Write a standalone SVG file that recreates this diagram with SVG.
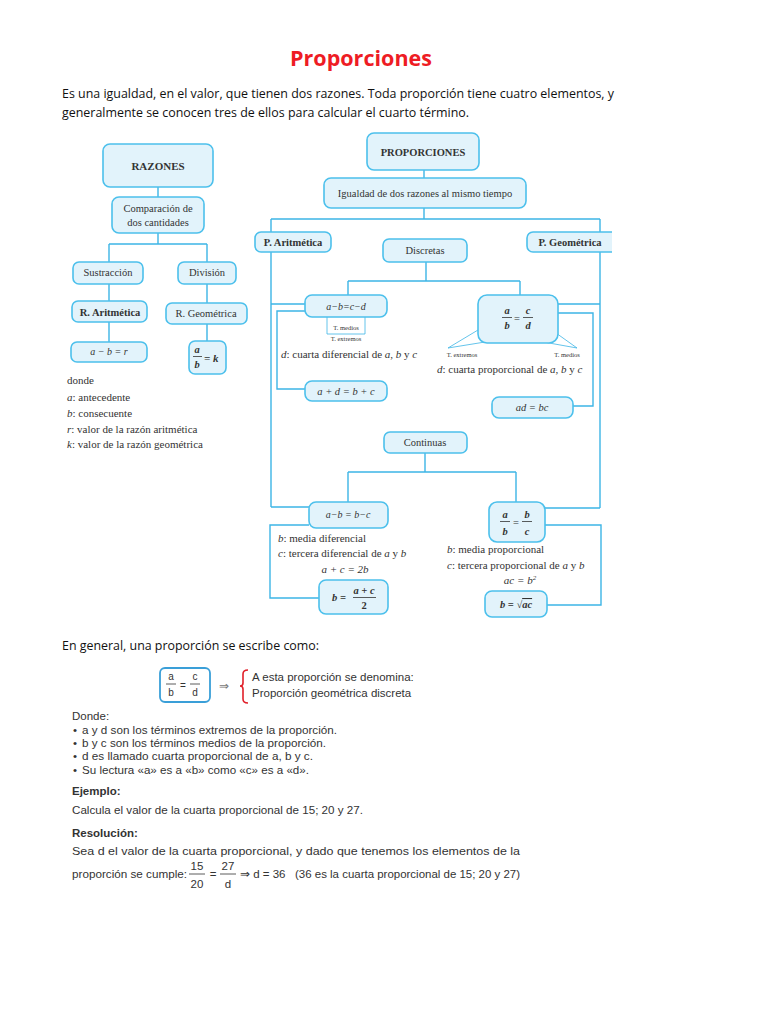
<svg xmlns="http://www.w3.org/2000/svg" width="768" height="1024" viewBox="0 0 768 1024">
<defs>
<style>
.box{fill:#e2f3fb;stroke:#4cc0ec;stroke-width:1.6}
.ln{fill:none;stroke:#3db5e6;stroke-width:1.4}
.thin{fill:none;stroke:#3db5e6;stroke-width:0.8}
.t{font-family:"Liberation Serif",serif;font-size:10.5px;fill:#333;text-anchor:middle}
.tl{font-family:"Liberation Serif",serif;font-size:11px;fill:#333}
.sm{font-size:6.5px}
.i{font-style:italic}
.b{font-weight:bold}
.s{font-family:"Liberation Sans",Arial,sans-serif;font-size:11.5px;fill:#333}
.c{font-family:"Open Sans","Noto Sans",sans-serif;font-size:13px;fill:#111}
.fl{stroke:#333;stroke-width:0.8}
</style>
<clipPath id="img"><rect x="60" y="128" width="552" height="492"/></clipPath>
</defs>
<rect width="768" height="1024" fill="#fff"/>
<text x="361" y="66" text-anchor="middle" font-family="'Open Sans','Noto Sans',sans-serif" font-size="21" font-weight="bold" fill="#ee1c24" textLength="142" lengthAdjust="spacingAndGlyphs">Proporciones</text>
<text class="c" x="62" y="98" textLength="552" lengthAdjust="spacingAndGlyphs">Es una igualdad, en el valor, que tienen dos razones. Toda proporción tiene cuatro elementos, y</text>
<text class="c" x="62" y="117" textLength="407" lengthAdjust="spacingAndGlyphs">generalmente se conocen tres de ellos para calcular el cuarto término.</text>

<g clip-path="url(#img)">
<g id="connectors">
<path class="ln" d="M158 187V197M158 233V244M109 244H207M109 244V262M207 244V262M109 283V301M207 284V303M109 322V342M207 324V341"/>
<path class="ln" d="M424 170V178M424 208V219M271 219H600M271 219V232M600 219V232"/>
<path class="ln" d="M271 252V507M271 304H305M271 507H309M600 252V508M558 304H600M545 508H600"/>
<path class="ln" d="M426 262V281M348 281H520M348 281V295M520 281V295"/>
<path class="ln" d="M305 311H277V389H305M558 313H593V406H573"/>
<path class="ln" d="M425 453V472M348 472H516M348 472V502M516 472V502"/>
<path class="ln" d="M309 525H270V598H319M545 525H601V605H547"/>
<path class="thin" d="M338 297V314H357V297M327 317V334H365V317"/>
<path class="thin" d="M448 348L498 318M448 348L522 336M577 348L535 318M577 348L510 336"/>
</g>

<g id="razones"><rect class="box" x="103" y="144" width="110" height="43" rx="7"/><text class="t b" x="158" y="170" style="font-size:11px">RAZONES</text></g>
<g id="comparacion"><rect class="box" x="112" y="197" width="92" height="36" rx="7"/><text class="t" x="158" y="212">Comparación de</text><text class="t" x="158" y="226">dos cantidades</text></g>
<g id="sustraccion"><rect class="box" x="73" y="262" width="70" height="22" rx="6"/><text class="t" x="108" y="276">Sustracción</text></g>
<g id="division"><rect class="box" x="178" y="262" width="58" height="22" rx="6"/><text class="t" x="207" y="276">División</text></g>
<g id="r-aritmetica"><rect class="box" x="72" y="301" width="75" height="21" rx="6"/><text class="t" x="110" y="316" font-weight="600">R. Aritmética</text></g>
<g id="r-geometrica"><rect class="box" x="166" y="303" width="81" height="21" rx="6"/><text class="t" x="206" y="317">R. Geométrica</text></g>
<g id="a-b-r"><rect class="box" x="71" y="342" width="76" height="20" rx="6"/><text class="t i" x="109" y="355" style="font-size:10px">a − b = r</text></g>
<g id="a-b-k"><rect class="box" x="189" y="341" width="37" height="33" rx="6"/><text class="t i b" x="197" y="353">a</text><line class="fl" x1="193" y1="356.5" x2="202" y2="356.5"/><text class="t i b" x="197" y="368">b</text><text class="tl i b" x="204" y="362">= k</text></g>

<g id="donde">
<text class="tl" x="67" y="384">donde</text>
<text class="tl" x="67" y="401"><tspan class="i">a</tspan>: antecedente</text>
<text class="tl" x="67" y="417"><tspan class="i">b</tspan>: consecuente</text>
<text class="tl" x="67" y="433"><tspan class="i">r</tspan>: valor de la razón aritmética</text>
<text class="tl" x="67" y="448"><tspan class="i">k</tspan>: valor de la razón geométrica</text>
</g>

<g id="proporciones"><rect class="box" x="367" y="133" width="112" height="37" rx="7"/><text class="t b" x="423" y="156">PROPORCIONES</text></g>
<g id="igualdad"><rect class="box" x="324" y="178" width="202" height="30" rx="7"/><text class="t" x="425" y="197">Igualdad de dos razones al mismo tiempo</text></g>
<g id="p-aritmetica"><rect class="box" x="255" y="232" width="76" height="20" rx="6"/><text class="t b" x="293" y="246">P. Aritmética</text></g>
<g id="p-geometrica"><rect class="box" x="527" y="232" width="95" height="20" rx="6"/><text class="t" x="570" y="246" font-weight="600">P. Geométrica</text></g>
<g id="discretas"><rect class="box" x="383" y="239" width="84" height="23" rx="6"/><text class="t" x="425" y="254">Discretas</text></g>
<g id="abcd-ar"><rect class="box" x="305" y="295" width="82" height="22" rx="7"/><text class="t i" x="346" y="310" style="font-size:10px">a−b=c−d</text>
<text class="t sm" x="346" y="330">T. medios</text><text class="t sm" x="346" y="341">T. extremos</text></g>
<text class="tl" x="281" y="358"><tspan class="i">d</tspan>: cuarta diferencial de <tspan class="i">a</tspan>, <tspan class="i">b</tspan> y <tspan class="i">c</tspan></text>
<g id="adbc-ar"><rect class="box" x="305" y="381" width="82" height="20" rx="7"/><text class="t i" x="346" y="395">a + d = b + c</text></g>

<g id="abcd-geo"><rect class="box" x="478" y="295" width="80" height="48" rx="9"/>
<text class="t i b" x="507" y="314">a</text><line class="fl" x1="502" y1="317.5" x2="512" y2="317.5"/><text class="t i b" x="507" y="329">b</text>
<text class="t" x="517" y="322">=</text>
<text class="t i b" x="528" y="314">c</text><line class="fl" x1="523" y1="317.5" x2="533" y2="317.5"/><text class="t i b" x="528" y="329">d</text></g>
<text class="t sm" x="462" y="357">T. extremos</text><text class="t sm" x="567" y="357">T. medios</text>
<text class="tl" x="437" y="373"><tspan class="i">d</tspan>: cuarta proporcional de <tspan class="i">a</tspan>, <tspan class="i">b</tspan> y <tspan class="i">c</tspan></text>
<g id="adbc-geo"><rect class="box" x="492" y="397" width="81" height="21" rx="7"/><text class="t i" x="532" y="411">ad = bc</text></g>

<g id="continuas"><rect class="box" x="384" y="432" width="83" height="21" rx="6"/><text class="t" x="425" y="446">Continuas</text></g>
<g id="abbc-ar"><rect class="box" x="309" y="502" width="79" height="26" rx="7"/><text class="t i" x="348" y="518" style="font-size:10px">a−b = b−c</text></g>
<text class="tl" x="278" y="542"><tspan class="i">b</tspan>: media diferencial</text>
<text class="tl" x="278" y="557"><tspan class="i">c</tspan>: tercera diferencial de <tspan class="i">a</tspan> y <tspan class="i">b</tspan></text>
<text class="t i" x="345" y="573" style="font-size:11px">a + c = 2b</text>
<g id="b-ar"><rect class="box" x="319" y="580" width="69" height="34" rx="7"/><text class="t i b" x="339" y="601">b =</text><text class="t i b" x="364" y="594">a + c</text><line class="fl" x1="353" y1="597.5" x2="376" y2="597.5"/><text class="t b" x="364" y="609">2</text></g>

<g id="abbc-geo"><rect class="box" x="489" y="502" width="56" height="40" rx="8"/>
<text class="t i b" x="505" y="518">a</text><line class="fl" x1="500" y1="521.5" x2="510" y2="521.5"/><text class="t i b" x="505" y="535">b</text>
<text class="t" x="516" y="526">=</text>
<text class="t i b" x="527" y="518">b</text><line class="fl" x1="522" y1="521.5" x2="532" y2="521.5"/><text class="t i b" x="527" y="535">c</text></g>
<text class="tl" x="447" y="553"><tspan class="i">b</tspan>: media proporcional</text>
<text class="tl" x="447" y="569"><tspan class="i">c</tspan>: tercera proporcional de <tspan class="i">a</tspan> y <tspan class="i">b</tspan></text>
<text class="t i" x="520" y="584" style="font-size:11px">ac = b<tspan style="font-size:7px" dy="-4">2</tspan></text>
<g id="b-geo"><rect class="box" x="485" y="591" width="62" height="26" rx="7"/><text class="t i b" x="516" y="608">b = √<tspan text-decoration="overline">ac</tspan></text></g>
</g>

<text class="c" x="62" y="650" textLength="257" lengthAdjust="spacingAndGlyphs">En general, una proporción se escribe como:</text>
<g id="formula"><rect x="160" y="668" width="50" height="34" rx="5" fill="#fff" stroke="#3a9fd8" stroke-width="1.8"/>
<text class="s" x="171" y="680" text-anchor="middle" style="font-size:10px">a</text><line x1="166" y1="684" x2="176" y2="684" stroke="#333" stroke-width="0.8"/><text class="s" x="171" y="696" text-anchor="middle" style="font-size:10px">b</text>
<text class="s" x="183" y="689" text-anchor="middle" style="font-size:10px">=</text>
<text class="s" x="195" y="680" text-anchor="middle" style="font-size:10px">c</text><line x1="190" y1="684" x2="200" y2="684" stroke="#333" stroke-width="0.8"/><text class="s" x="195" y="696" text-anchor="middle" style="font-size:10px">d</text></g>
<text class="s" x="219" y="690" style="fill:#777">⇒</text>
<path d="M248 670Q243 670 243 674V683Q243 686 240 686Q243 686 243 689V699Q243 703 248 703" fill="none" stroke="#e0202a" stroke-width="1.6"/>
<text class="s" x="252" y="681">A esta proporción se denomina:</text>
<text class="s" x="252" y="697">Proporción geométrica discreta</text>

<text class="s" x="72" y="720">Donde:</text>
<text class="s" x="73" y="734">•</text><text class="s" x="82" y="734" textLength="255" lengthAdjust="spacingAndGlyphs">a y d son los términos extremos de la proporción.</text>
<text class="s" x="73" y="747">•</text><text class="s" x="82" y="747" textLength="244" lengthAdjust="spacingAndGlyphs">b y c son los términos medios de la proporción.</text>
<text class="s" x="73" y="760">•</text><text class="s" x="82" y="760" textLength="231" lengthAdjust="spacingAndGlyphs">d es llamado cuarta proporcional de a, b y c.</text>
<text class="s" x="73" y="774">•</text><text class="s" x="82" y="774" textLength="227" lengthAdjust="spacingAndGlyphs">Su lectura «a» es a «b» como «c» es a «d».</text>
<text class="s b" x="72" y="795">Ejemplo:</text>
<text class="s" x="72" y="814" textLength="291" lengthAdjust="spacingAndGlyphs">Calcula el valor de la cuarta proporcional de 15; 20 y 27.</text>
<text class="s b" x="72" y="837">Resolución:</text>
<text class="s" x="72" y="855" textLength="448" lengthAdjust="spacingAndGlyphs">Sea d el valor de la cuarta proporcional, y dado que tenemos los elementos de la</text>
<text class="s" x="72" y="878" textLength="115" lengthAdjust="spacingAndGlyphs">proporción se cumple:</text>
<text class="s" x="197" y="870" text-anchor="middle">15</text><line x1="189" y1="874" x2="205" y2="874" stroke="#333" stroke-width="0.8"/><text class="s" x="197" y="888" text-anchor="middle">20</text>
<text class="s" x="213" y="878" text-anchor="middle">=</text>
<text class="s" x="228" y="870" text-anchor="middle">27</text><line x1="220" y1="874" x2="236" y2="874" stroke="#333" stroke-width="0.8"/><text class="s" x="228" y="888" text-anchor="middle">d</text>
<text class="s" x="240" y="878">⇒ d = 36</text>
<text class="s" x="295" y="878" textLength="225" lengthAdjust="spacingAndGlyphs">(36 es la cuarta proporcional de 15; 20 y 27)</text>
</svg>
